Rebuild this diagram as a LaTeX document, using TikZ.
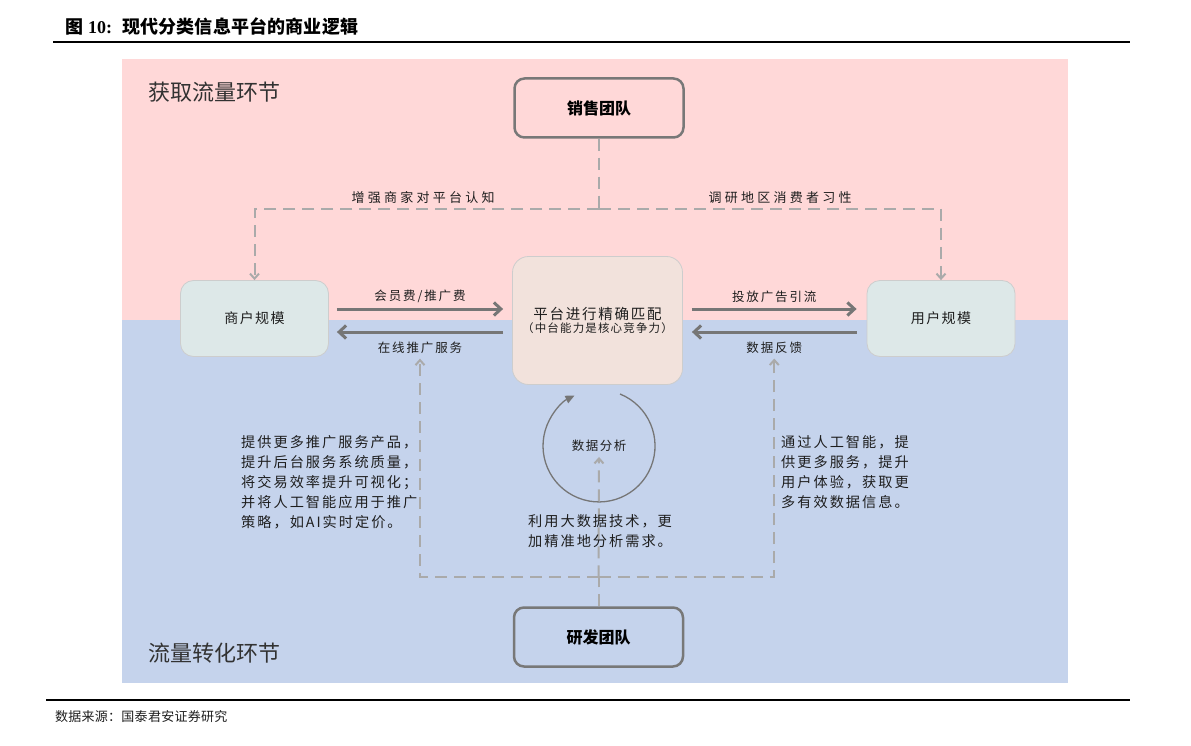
\documentclass[tikz,border=0pt]{standalone}
\usepackage{fontspec}
\setmainfont{Noto Sans CJK SC}
\newfontfamily\cjk{Noto Sans CJK SC}
\newfontfamily\serifnum{Liberation Serif}
\usetikzlibrary{arrows.meta,calc}
\definecolor{pinkbg}{RGB}{255,216,216}
\definecolor{bluebg}{RGB}{197,211,236}
\definecolor{boxgreen}{RGB}{221,232,232}
\definecolor{boxpeach}{RGB}{242,226,220}
\definecolor{boxline}{RGB}{205,205,205}
\definecolor{teamline}{RGB}{120,120,120}
\definecolor{dashgray}{RGB}{170,170,170}
\definecolor{arrowgray}{RGB}{118,118,118}
\definecolor{txt}{RGB}{30,30,30}
\definecolor{regiontxt}{RGB}{50,50,50}
\begin{document}
\begin{tikzpicture}[x=1pt,y=-1pt,
  team/.style={draw=teamline, line width=2.5pt, rounded corners=10pt,
    minimum width=169pt, minimum height=59pt, inner sep=0pt,
    font=\cjk\bfseries\fontsize{16}{18}\selectfont, text=black},
  greenbox/.style={draw=boxline, line width=0.8pt, fill=boxgreen, rounded corners=13pt,
    minimum width=148pt, minimum height=76pt, inner sep=0pt,
    font=\cjk\fontsize{14}{16}\selectfont\addfontfeature{LetterSpace=10}, text=txt},
  peachbox/.style={draw=boxline, line width=0.8pt, fill=boxpeach, rounded corners=16pt,
    minimum width=170pt, minimum height=128pt, inner sep=0pt, align=center, text=txt},
  flow/.style={draw=arrowgray, line width=3pt, -{Straight Barb[length=7pt,width=13pt]}},
  dashline/.style={draw=dashgray, line width=2pt, dash pattern=on 12pt off 7pt},
  dasharrow/.style={dashline, -{Straight Barb[length=5pt,width=9pt]}},
  flowlbl/.style={inner sep=1pt, text=txt, font=\cjk\fontsize{12.5}{14}\selectfont\addfontfeature{LetterSpace=15}},
  dashlbl/.style={inner sep=1pt, text=txt, font=\cjk\fontsize{13}{15}\selectfont\addfontfeature{LetterSpace=25}},
  bodytxt/.style={inner sep=0pt, anchor=north west, align=left, text=txt,
    font=\cjk\fontsize{14.2}{20}\selectfont\addfontfeature{LetterSpace=14}},
  regionlbl/.style={inner sep=0pt, anchor=west, text=regiontxt, font=\cjk\fontsize{22}{24}\selectfont}
]
\useasboundingbox (0,0) rectangle (1191,746);
\fill[white] (0,0) rectangle (1191,746);
% title and rules
\node[anchor=west, inner sep=0pt] (title) at (65,27)
  {\fontsize{18}{20}\selectfont\bfseries{\cjk 图}\hspace{5pt}{\serifnum 10:}\hspace{10pt}{\cjk\addfontfeature{LetterSpace=1}现代分类信息平台的商业逻辑}};
\draw[line width=2pt] (53,42.5) -- (1130,42.5);
% background bands
\fill[pinkbg] (122,59) rectangle (1068,320);
\fill[bluebg] (122,320) rectangle (1068,683);
\draw[line width=2pt] (46,700) -- (1130,700);
\node[anchor=west, inner sep=0pt, text=txt, font=\cjk\fontsize{13}{15}\selectfont\addfontfeature{LetterSpace=2}] (src) at (55,717) {数据来源：国泰君安证券研究};
% region labels
\node[regionlbl] (reg1) at (148,92) {获取流量环节};
\node[regionlbl] (reg2) at (148,653) {流量转化环节};
% main nodes
\node[team] (s) at (599,108) {销售团队};
\node[team] (r) at (598.5,637) {研发团队};
\node[greenbox] (m) at (254.5,318.5) {商户规模};
\node[greenbox] (u) at (941,318.5) {用户规模};
\node[peachbox] (c) at (597.5,320.5)
  {{\cjk\fontsize{14.5}{17}\selectfont\addfontfeature{LetterSpace=12}平台进行精确匹配}\\[1pt]
   {\cjk\fontsize{11.5}{13}\selectfont\addfontfeature{LetterSpace=10}（中台能力是核心竞争力）}};
% flow arrows
\draw[flow] ($(m.east)+(8,-9.5)$) -- node[above=4pt, flowlbl] (l1) {会员费/推广费} ($(c.west)+(-9,-11.5)$);
\draw[flow] ($(c.west)+(-9,11.5)$) -- node[below=7pt, flowlbl] (l2) {在线推广服务} ($(m.east)+(8,13.5)$);
\draw[flow] ($(c.east)+(9,-11.5)$) -- node[above=4pt, flowlbl] (l3) {投放广告引流} ($(u.west)+(-10,-9.5)$);
\draw[flow] ($(u.west)+(-10,13.5)$) -- node[below=7pt, flowlbl] (l4) {数据反馈} ($(c.east)+(9,11.5)$);
% top dashed connectors
\coordinate (sj) at ($(s.south)+(0,70)$);
\draw[dashline] (s.south) -- (sj);
\draw[dasharrow] (sj) -| (m.north);
\draw[dasharrow] (sj) -| (u.north);
\node[dashlbl] (l5) at (423,198) {增强商家对平台认知};
\node[dashlbl] (l6) at (780,198) {调研地区消费者习性};
% data analysis loop
\node[inner sep=1pt, text=txt, font=\cjk\fontsize{12.5}{14}\selectfont\addfontfeature{LetterSpace=12}] (da) at (599,446) {数据分析};
\draw[draw=arrowgray, line width=1.3pt, -{Triangle[length=9pt,width=8pt]}]
  ($(da)+(21,-52)$) arc[start angle=68, end angle=-244, radius=56pt];
% bottom dashed connectors
\coordinate (rj) at ($(r.north)+(0,-29)$);
\draw[dashline] (r.north) -- (rj);
\draw[dasharrow] (rj) -| ([yshift=-3pt]l2.south);
\draw[dasharrow] (rj) -| ([yshift=-3pt]l4.south);
\draw[dasharrow] (rj) -- ([yshift=-4pt]da.south);
% text blocks
\node[bodytxt] (t1) at (241,435) {提供更多推广服务产品，\\提升后台服务系统质量，\\将交易效率提升可视化；\\并将人工智能应用于推广\\策略，如AI实时定价。};
\node[bodytxt] (t2) at (528,514) {利用大数据技术，更\\加精准地分析需求。};
\node[bodytxt] (t3) at (781,435) {通过人工智能，提\\供更多服务，提升\\用户体验，获取更\\多有效数据信息。};
\end{tikzpicture}
\end{document}
